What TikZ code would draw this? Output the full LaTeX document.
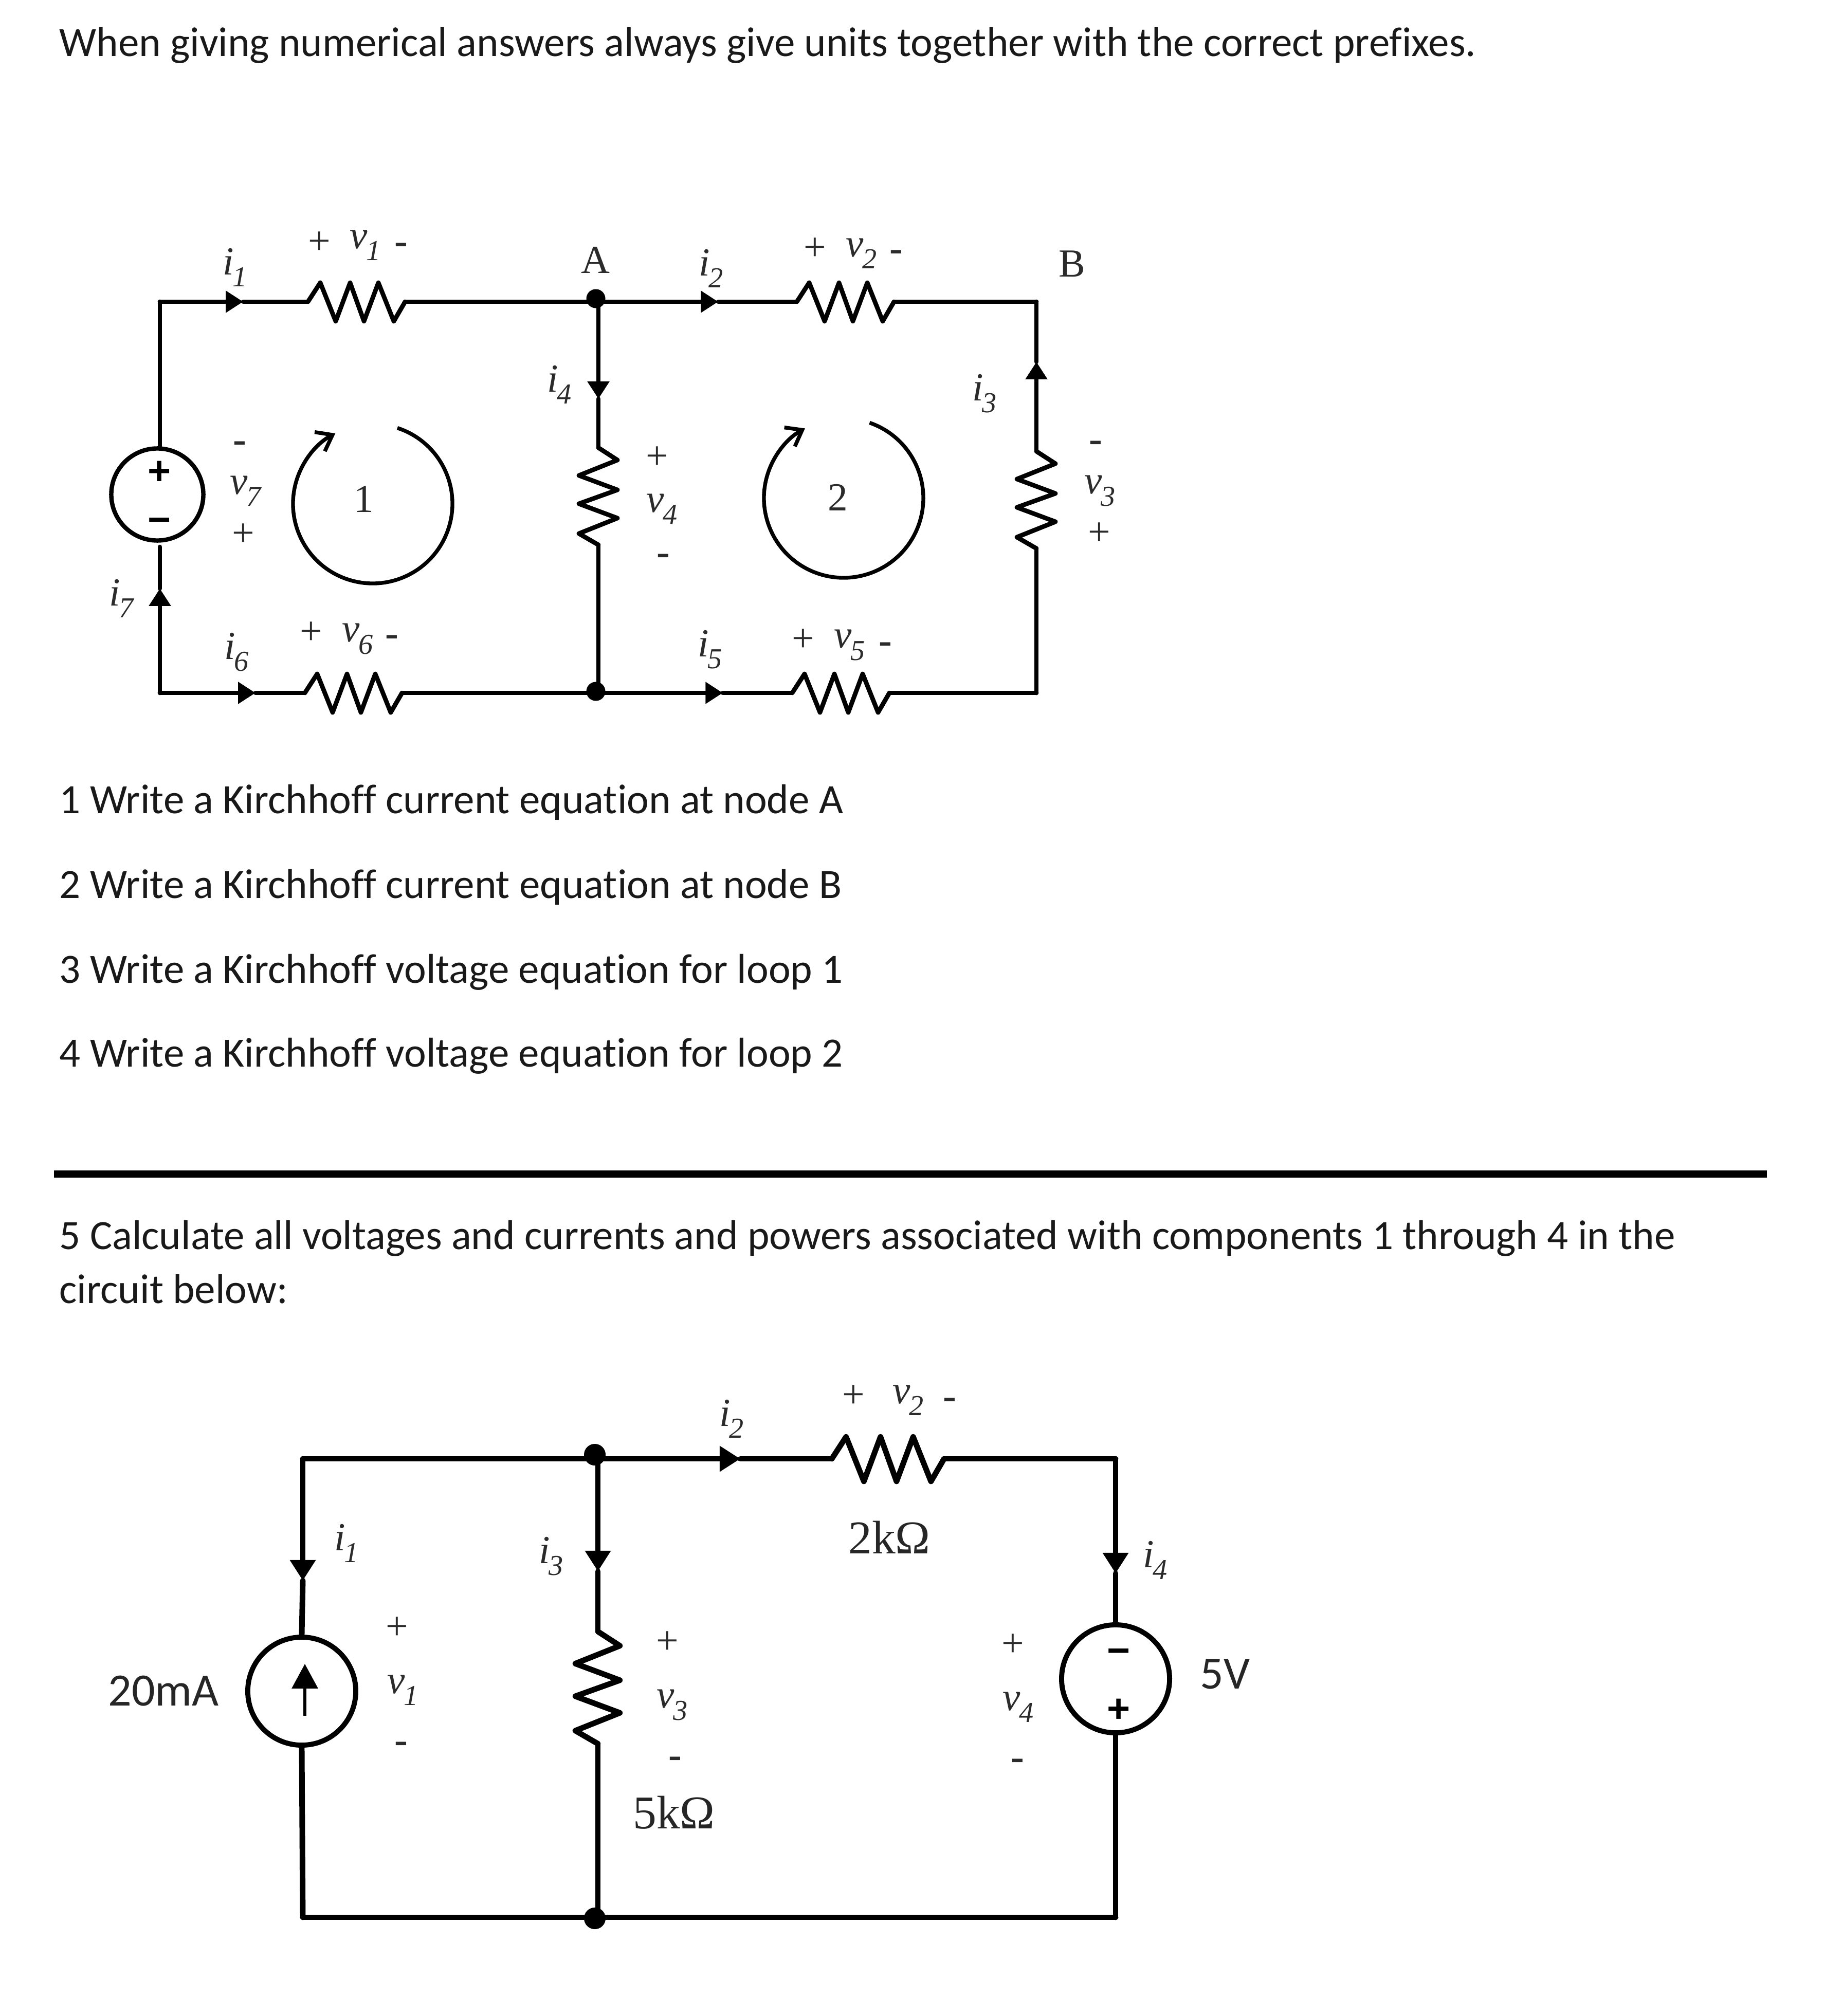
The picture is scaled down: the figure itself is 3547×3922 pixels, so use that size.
\documentclass[tikz,border=0pt]{standalone}
\usepackage{fontspec}
\setmainfont[Ligatures=CommonOff]{Carlito}
\newfontfamily\serifface{Liberation Serif}
\newfontfamily\sansface{Liberation Sans}
\usetikzlibrary{arrows.meta}
\definecolor{inkgray}{HTML}{2B2B2B}
\newcommand{\sym}[2]{\textit{#1\kern-.03em\raisebox{-.3em}{\fontsize{16}{16}\selectfont #2}}}
\tikzset{
  wire/.style={line width=2.5pt,line cap=round,line join=round},
  body/.style={anchor=base west,inner sep=0pt,text=black!90,font=\fontsize{23.04}{26}\selectfont},
  lbl/.style={inner sep=0pt,text=inkgray,font=\serifface\fontsize{22}{26}\selectfont},
  plussign/.style={lbl,yshift=-1.4pt},
  neg/.style={lbl,yshift=-3.6pt,font=\serifface\bfseries\fontsize{22}{26}\selectfont},
  val/.style={inner sep=0pt,text=black!85,font=\serifface\fontsize{26}{30}\selectfont},
  calibri/.style={inner sep=0pt,text=black!85,font=\fontsize{25.6}{28}\selectfont},
  polarity/.style={inner sep=0pt,font=\sansface\bfseries\fontsize{22}{26}\selectfont},
  fwd/.style={-{Triangle[length=9.6pt,width=11.6pt]}},
  loopline/.style={line width=2.1pt,-{Straight Barb[length=8pt,width=12pt]}},
  source/.style={circle,draw,inner sep=0pt,line width=2.4pt},
  junction/.style={circle,fill,inner sep=0pt},
  zigzag/.pic={
    \draw[wire] (0,0) coordinate (-a) -- (24,-37) -- (54,38) -- (82,-37)
      -- (109,38) -- (137,-37) -- (167,38) -- (189,0) coordinate (-b);
  }
}
\begin{document}
\begin{tikzpicture}[x=0.01cm,y=-0.01cm]
  \useasboundingbox (0,0) rectangle (3547,3922);

  % texts
  \node[body] (head) at (115,110) {When giving numerical answers always give units together with the correct prefixes.};
  \node[body] (q1) at (115,1582) {1 Write a Kirchhoff current equation at node A};
  \node[body] (q2) at (115,1747) {2 Write a Kirchhoff current equation at node B};
  \node[body] (q3) at (115,1912) {3 Write a Kirchhoff voltage equation for loop 1};
  \node[body] (q4) at (115,2075) {4 Write a Kirchhoff voltage equation for loop 2};
  \node[body] (q5) at (115,2430) {5 Calculate all voltages and currents and powers associated with components 1 through 4 in the};
  \node[body] (q5b) at (115,2535) {circuit below:};
  \coordinate (ruleL) at (105,2284);
  \coordinate (ruleR) at (3437,2284);
  \draw[line width=4pt] (ruleL) -- (ruleR);

  % first circuit
  \coordinate (tl) at (311,587);
  \coordinate (bl) at (311,1348);
  \coordinate (tr) at (2016,587);
  \coordinate (br) at (2016,1348);
  \coordinate (tm) at (1164,587);
  \coordinate (bm) at (1164,1348);
  \node[junction,minimum size=0.37cm] (nodeA) at (1159,581) {};
  \node[junction,minimum size=0.37cm] (nodeC) at (1159,1345) {};
  \node[source,minimum size=1.79cm] (s7) at (306,962) {};
  \node[polarity] (s7p) at (310,920) {+};
  \node[polarity] (s7m) at (310,1023) {−};
  \coordinate (s7top) at (311,868);
  \coordinate (s7bot) at (311,1064);

  \pic (r1) at (599,587) {zigzag};
  \pic (r2) at (1550,587) {zigzag};
  \pic (r6) at (593,1348) {zigzag};
  \pic (r5) at (1541,1348) {zigzag};
  \pic[rotate=-90] (r4) at (1164,871) {zigzag};
  \pic[rotate=-90] (r3) at (2016,878) {zigzag};

  \coordinate (a1) at (473,587);
  \coordinate (a2) at (1397,587);
  \coordinate (a3) at (2016,704);
  \coordinate (a4) at (1164,776);
  \coordinate (a5) at (1406,1348);
  \coordinate (a6) at (497,1348);
  \coordinate (a7) at (311,1145);

  \draw[wire,fwd] (tl) -- (a1);
  \draw[wire] (a1) -- (r1-a);
  \draw[wire] (r1-b) -- (tm);
  \draw[wire,fwd] (tm) -- (a2);
  \draw[wire] (a2) -- (r2-a);
  \draw[wire] (r2-b) -- (tr);
  \draw[wire,fwd] (r3-a) -- (a3);
  \draw[wire] (a3) -- (tr);
  \draw[wire] (r3-b) -- (br);
  \draw[wire,fwd] (tm) -- (a4);
  \draw[wire] (a4) -- (r4-a);
  \draw[wire] (r4-b) -- (bm);
  \draw[wire,fwd] (bm) -- (a5);
  \draw[wire] (a5) -- (r5-a);
  \draw[wire] (r5-b) -- (br);
  \draw[wire,fwd] (bl) -- (a6);
  \draw[wire] (a6) -- (r6-a);
  \draw[wire] (r6-b) -- (bm);
  \draw[wire,fwd] (bl) -- (a7);
  \draw[wire] (a7) -- (s7bot);
  \draw[wire] (tl) -- (s7top);

  \draw[loopline] (725,980) ++(72:155 and -155) arc [start angle=-72, end angle=242, radius=155];
  \draw[loopline] (1641,969) ++(71:155 and -155) arc [start angle=-71, end angle=241, radius=155];
  \node[lbl] (loop1) at (708,971) {1};
  \node[lbl] (loop2) at (1630,968) {2};

  \node[lbl] (nameA) at (1158,506) {A};
  \node[lbl] (nameB) at (2085,513) {B};
  \node[lbl] (i1) at (457,520) {\sym{i}{1}};
  \node[lbl] (i2) at (1383,522) {\sym{i}{2}};
  \node[lbl] (i3) at (1915,766) {\sym{i}{3}};
  \node[lbl] (i4) at (1088,748) {\sym{i}{4}};
  \node[lbl] (i5) at (1381,1264) {\sym{i}{5}};
  \node[lbl] (i6) at (460,1269) {\sym{i}{6}};
  \node[lbl] (i7) at (236,1164) {\sym{i}{7}};
  \node[plussign] (p1) at (621,468) {+};
  \node[lbl] (v1) at (711,477) {\sym{v}{1}};
  \node[neg] (m1) at (780,471) {-};
  \node[plussign] (p2) at (1585,480) {+};
  \node[lbl] (v2) at (1676,493) {\sym{v}{2}};
  \node[neg] (m2) at (1743,485) {-};
  \node[neg] (m3) at (2131,856) {-};
  \node[lbl] (v3) at (2140,955) {\sym{v}{3}};
  \node[plussign] (p3) at (2138,1034) {+};
  \node[plussign] (p4) at (1278,886) {+};
  \node[lbl] (v4) at (1288,990) {\sym{v}{4}};
  \node[neg] (m4) at (1290,1076) {-};
  \node[plussign] (p5) at (1562,1241) {+};
  \node[lbl] (v5) at (1653,1255) {\sym{v}{5}};
  \node[neg] (m5) at (1722,1248) {-};
  \node[plussign] (p6) at (605,1227) {+};
  \node[lbl] (v6) at (696,1243) {\sym{v}{6}};
  \node[neg] (m6) at (762,1234) {-};
  \node[neg] (m7) at (466,857) {-};
  \node[lbl] (v7) at (478,955) {\sym{v}{7}};
  \node[plussign] (p7) at (473,1036) {+};

  % second circuit
  \begin{scope}[wire/.style={line width=3.1pt,line cap=round,line join=round},
      fwd/.style={-{Triangle[length=11.4pt,width=13.6pt]}},
      source/.style={circle,draw,inner sep=0pt,line width=2.8pt}]
    \coordinate (tl2) at (589,2838);
    \coordinate (bl2) at (589,3730);
    \coordinate (tr2) at (2170,2838);
    \coordinate (br2) at (2170,3730);
    \coordinate (tm2) at (1163,2838);
    \coordinate (bm2) at (1163,3730);
    \node[junction,minimum size=0.42cm] (top2) at (1157,2830) {};
    \node[junction,minimum size=0.42cm] (bot2) at (1157,3732) {};
    \node[source,minimum size=2.1cm] (cs) at (587,3290) {};
    \node[source,minimum size=2.1cm] (vs) at (2170,3266) {};
    \node[polarity] (vsm) at (2176,3222) {−};
    \node[polarity] (vsp) at (2176,3328) {+};
    \coordinate (csa) at (593,3338);
    \coordinate (csb) at (593,3237);
    \draw[line width=1.8pt,-{Triangle[length=13.6pt,width=14.2pt]}] (csa) -- (csb);

    \pic[scale=1.155] (rb2) at (1618,2838) {zigzag};
    \pic[scale=1.155,rotate=-90] (rb3) at (1163,3174) {zigzag};

    \coordinate (b1) at (589,3075);
    \coordinate (b2) at (1440,2838);
    \coordinate (b3) at (1163,3057);
    \coordinate (b4) at (2170,3061);

    \draw[wire,fwd] (tl2) -- (b1);
    \draw[wire] (b1) -- (cs.north);
    \draw[wire] (cs.south) -- (bl2);
    \draw[wire] (tl2) -- (tm2);
    \draw[wire,fwd] (tm2) -- (b2);
    \draw[wire] (b2) -- (rb2-a);
    \draw[wire] (rb2-b) -- (tr2);
    \draw[wire,fwd] (tr2) -- (b4);
    \draw[wire] (b4) -- (vs.north);
    \draw[wire] (vs.south) -- (br2);
    \draw[wire,fwd] (tm2) -- (b3);
    \draw[wire] (b3) -- (rb3-a);
    \draw[wire] (rb3-b) -- (bm2);
    \draw[wire] (bl2) -- (br2);

    \node[calibri] (cur) at (318,3290) {20mA};
    \node[calibri] (volt) at (2383,3257) {5V};
    \node[val] (ohm2) at (1730,2991) {2kΩ};
    \node[val] (ohm5) at (1311,3526) {5kΩ};
    \node[lbl] (j1) at (674,3002) {\sym{i}{1}};
    \node[lbl] (j2) at (1423,2760) {\sym{i}{2}};
    \node[lbl] (j3) at (1072,3028) {\sym{i}{3}};
    \node[lbl] (j4) at (2247,3035) {\sym{i}{4}};
    \node[plussign] (q1p) at (772,3163) {+};
    \node[lbl] (u1) at (784,3288) {\sym{v}{1}};
    \node[neg] (q1m) at (780,3387) {-};
    \node[plussign] (q2p) at (1660,2712) {+};
    \node[lbl] (u2) at (1767,2724) {\sym{v}{2}};
    \node[neg] (q2m) at (1847,2718) {-};
    \node[plussign] (q3p) at (1298,3191) {+};
    \node[lbl] (u3) at (1308,3317) {\sym{v}{3}};
    \node[neg] (q3m) at (1313,3416) {-};
    \node[plussign] (q4p) at (1970,3196) {+};
    \node[lbl] (u4) at (1981,3321) {\sym{v}{4}};
    \node[neg] (q4m) at (1979,3420) {-};
  \end{scope}
\end{tikzpicture}
\end{document}
